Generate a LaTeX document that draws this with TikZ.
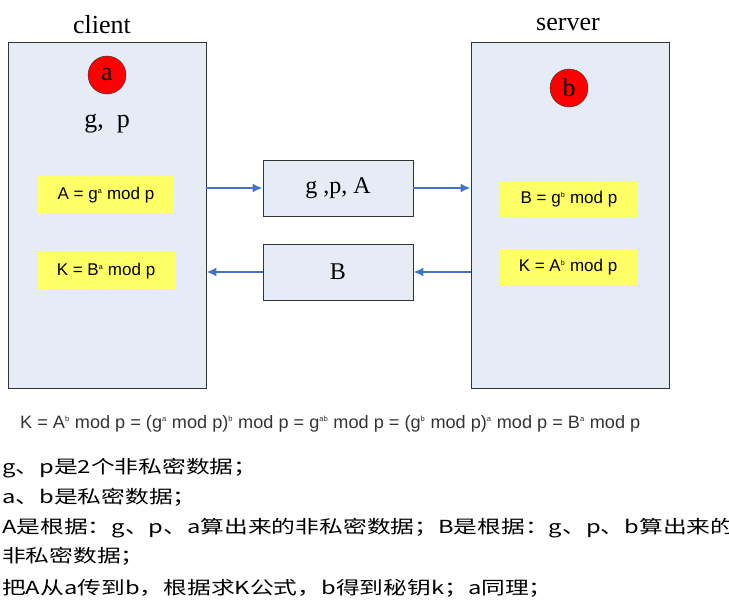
\documentclass[tikz,border=0pt]{standalone}
\usepackage{fontspec}
\usepackage{graphicx}
\usetikzlibrary{arrows.meta}
\setmainfont{Liberation Serif}
\newfontfamily\arialf{Liberation Sans}
\newfontfamily\cjk{Noto Sans CJK SC}
\newcommand{\zhs}[1]{\scalebox{1.32}[1]{#1}}
\newcommand{\sps}[1]{\textsuperscript{\scalebox{0.6}{#1}}}
\begin{document}
\begin{tikzpicture}[x=1pt,y=-1pt,
 big/.style={draw=black!80,fill={rgb,255:red,230;green,236;blue,246},line width=0.8pt},
 yel/.style={fill={rgb,255:red,255;green,255;blue,102},font=\arialf\fontsize{17}{20}\selectfont,inner sep=0pt},
 dot/.style={circle,draw=black!80,fill=red,minimum size=38pt,inner sep=0pt,font=\fontsize{26}{28}\selectfont},
 arr/.style={-{Latex[length=10pt,width=9pt]},draw={rgb,255:red,68;green,114;blue,196},line width=2.5pt},
 zh/.style={anchor=west,font=\fontsize{18}{20}\selectfont\cjk,inner sep=0pt}]
\useasboundingbox (0,0) rectangle (729,610);
\node[big,minimum width=198pt,minimum height=346pt,inner sep=0pt] (cl) at (107,215) {};
\node[big,minimum width=198pt,minimum height=346pt,inner sep=0pt] (sv) at (570,215) {};
\node[font=\fontsize{26}{28}\selectfont] (clt) at (102,25) {client};
\node[font=\fontsize{26}{28}\selectfont] (svt) at (568,25) {server};
\node[dot] (a) at (107,75) {a};
\node[dot] (b) at (569,88) {b};
\node[font=\fontsize{26}{28}\selectfont] (gp) at (107,124) {g,\ \ p};
\node[yel,minimum width=136pt,minimum height=38pt] (A) at (106,195) {A = g\sps{a} mod p};
\node[yel,minimum width=137pt,minimum height=38pt] (KB) at (106,271) {K = B\sps{a} mod p};
\node[yel,minimum width=138pt,minimum height=35pt] (B) at (569,199) {B = g\sps{b} mod p};
\node[yel,minimum width=137pt,minimum height=37pt] (KA) at (568,267) {K = A\sps{b} mod p};
\node[big,minimum width=150pt,minimum height=56pt,inner sep=0pt,font=\fontsize{24}{26}\selectfont] (m1) at (338,188) {g ,p, A};
\node[big,minimum width=150pt,minimum height=56pt,inner sep=0pt,font=\fontsize{24}{26}\selectfont] (m2) at (338,272) {B};
\draw[arr] (cl.east |- m1.west) -- (m1.west);
\draw[arr] (m1.east) -- (sv.west |- m1.east);
\draw[arr] (sv.west |- m2.east) -- (m2.east);
\draw[arr] (m2.west) -- (cl.east |- m2.west);
\node[anchor=west,inner sep=0pt,font=\arialf\fontsize{16}{18}\selectfont,text=black!80] (f) at (20,424) {\resizebox{620pt}{13pt}{K = A\sps{b} mod p = (g\sps{a} mod p)\sps{b} mod p = g\sps{ab} mod p = (g\sps{b} mod p)\sps{a} mod p = B\sps{a} mod p}};
\node[zh] (l1) at (2,468) {\zhs{g、p是2个非私密数据；}};
\node[zh] (l2) at (2,497) {\zhs{a、b是私密数据；}};
\node[zh] (l3) at (2,528) {\zhs{A是根据：g、p、a算出来的非私密数据；B是根据：g、p、b算出来的}};
\node[zh] (l4) at (2,556) {\zhs{非私密数据；}};
\node[zh] (l5) at (2,588) {\zhs{把A从a传到b，根据求K公式，b得到秘钥k；a同理；}};
\end{tikzpicture}
\end{document}
